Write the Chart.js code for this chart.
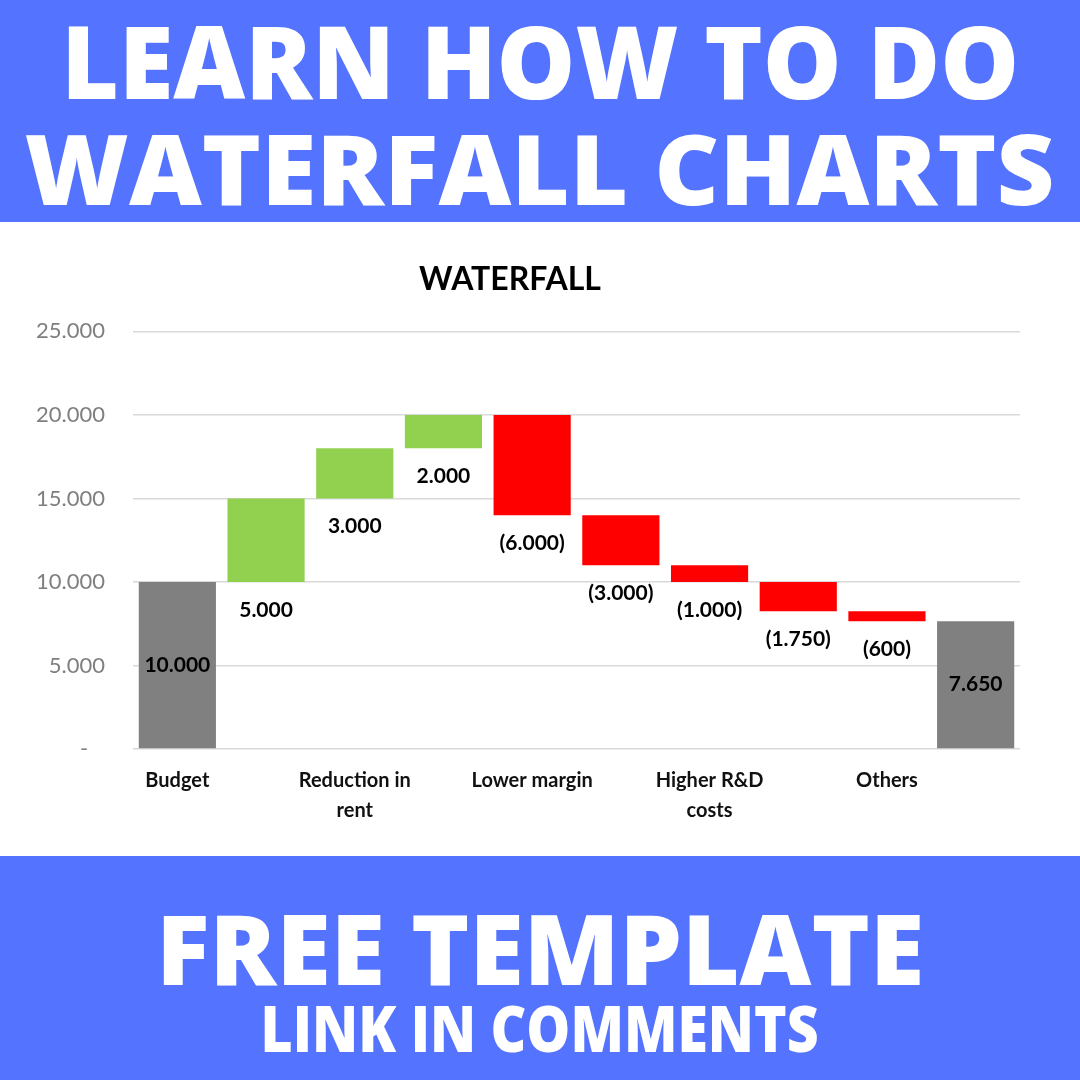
<!DOCTYPE html>
<html>
<head>
<meta charset="utf-8">
<script src="https://cdn.jsdelivr.net/npm/chart.js@4.4.0/dist/chart.umd.min.js"></script>
<style>
  body { margin: 0; width: 1080px; height: 1080px; overflow: hidden; background: #fff; position: relative; font-family: "Open Sans", sans-serif; }
  .band { position: absolute; left: 0; width: 1080px; background: #5473fe; }
  #top { top: 0; height: 222px; }
  #bottom { top: 856px; height: 224px; }
  .line { position: absolute; left: 0; width: 1080px; text-align: center; color: #fff; font-weight: 800; line-height: 1; white-space: nowrap; }
  .line span { display: inline-block; transform-origin: center; }
  #box { position: absolute; left: 0; top: 222px; width: 1080px; height: 634px; }
</style>
</head>
<body>
<div class="band" id="top"></div>
<div class="band" id="bottom"></div>
<div class="line" style="top:10px;font-size:101px" data-w="958"><span>LEARN HOW TO DO</span></div>
<div class="line" style="top:118px;font-size:98px" data-w="1030"><span>WATERFALL CHARTS</span></div>
<div class="line" style="top:898px;font-size:98px" data-w="768"><span>FREE TEMPLATE</span></div>
<div class="line" style="top:996px;font-size:63px" data-w="558"><span>LINK IN COMMENTS</span></div>
<div id="box"><canvas id="waterfall" width="1080" height="634"></canvas></div>
<script>
var categories = ['Budget', '', ['Reduction in', 'rent'], '', 'Lower margin', '', ['Higher R&D', 'costs'], '', 'Others', ''];
var values = [10000, 5000, 3000, 2000, -6000, -3000, -1000, -1750, -600, 7650];
var isTotal = [true, false, false, false, false, false, false, false, false, true];
var yTicks = [0, 5000, 10000, 15000, 20000, 25000];

// fit banner text to its width
document.querySelectorAll('.line').forEach(function (el) {
  var span = el.querySelector('span');
  var w = span.getBoundingClientRect().width;
  span.style.transform = 'scaleX(' + (el.dataset.w / w) + ')';
});

function fmt(v) {
  var s = Math.abs(v).toString().replace(/\B(?=(\d{3})+(?!\d))/g, '.');
  return v < 0 ? '(' + s + ')' : s;
}

// floating bars from running total
var bars = [], colors = [], running = 0;
for (var i = 0; i < values.length; i++) {
  if (isTotal[i]) {
    bars.push([0, values[i]]);
    running = values[i];
    colors.push('#808080');
  } else {
    bars.push([running, running + values[i]]);
    running += values[i];
    colors.push(values[i] >= 0 ? '#92d050' : '#ff0000');
  }
}

var barLabels = {
  id: 'barLabels',
  afterDatasetsDraw: function (chart) {
    var ctx = chart.ctx;
    var meta = chart.getDatasetMeta(0);
    ctx.save();
    ctx.font = 'bold 21px Lato';
    ctx.fillStyle = '#000';
    ctx.textAlign = 'center';
    ctx.textBaseline = 'middle';
    meta.data.forEach(function (bar, i) {
      var y = isTotal[i] ? (bar.y + bar.base) / 2 : Math.max(bar.y, bar.base) + 28;
      ctx.fillText(fmt(values[i]), bar.x, y);
    });
    ctx.restore();
  }
};

new Chart('waterfall', {
  type: 'bar',
  data: {
    labels: categories,
    datasets: [{
      data: bars,
      backgroundColor: colors,
      barPercentage: 0.87,
      categoryPercentage: 1
    }]
  },
  options: {
    responsive: false,
    animation: false,
    layout: { padding: { left: 0, right: 60, top: 0, bottom: 0 } },
    plugins: {
      legend: { display: false },
      tooltip: { enabled: false },
      title: {
        display: true,
        text: 'WATERFALL',
        color: '#000',
        font: { family: 'Lato', size: 32, weight: 'bold' },
        padding: { top: 38, bottom: 33 }
      }
    },
    scales: {
      x: {
        afterFit: function (scale) { scale.height = 107; },
        grid: { display: false },
        border: { display: false },
        ticks: {
          autoSkip: false,
          maxRotation: 0,
          padding: 9,
          color: '#111',
          font: { family: 'Lato', size: 20, weight: 'bold', lineHeight: 1.5 }
        }
      },
      y: {
        min: 0,
        max: 25000,
        afterFit: function (scale) { scale.width = 133; },
        afterBuildTicks: function (scale) { scale.ticks = yTicks.map(function (v) { return { value: v }; }); },
        grid: { color: '#d9d9d9', lineWidth: 1.5, drawTicks: false },
        border: { display: false },
        ticks: {
          padding: 28,
          color: '#7f7f7f',
          font: { family: 'Lato', size: 22 },
          callback: function (v) { return v === 0 ? '-   ' : fmt(v); }
        }
      }
    }
  },
  plugins: [barLabels]
});
</script>
</body>
</html>
